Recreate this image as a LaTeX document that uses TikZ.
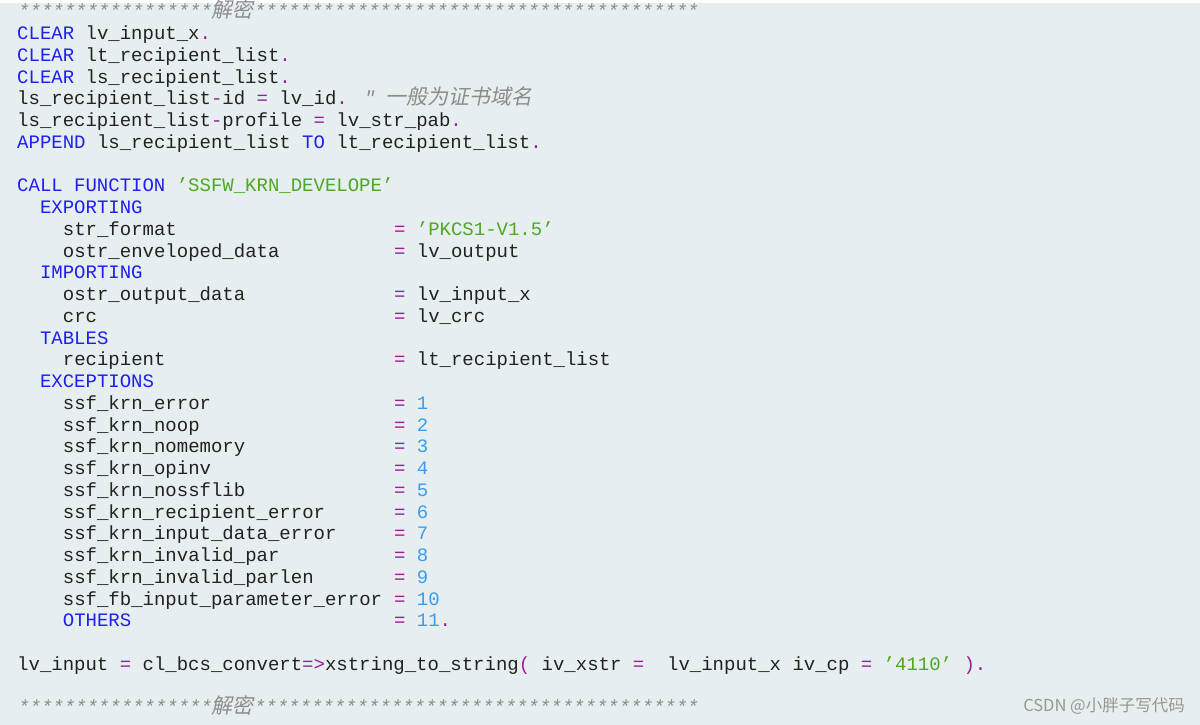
\documentclass[tikz,border=0pt]{standalone}
\usepackage{fontspec}
\newfontfamily\codefont{Liberation Mono}
\newfontfamily\cjkit[FakeSlant=0.2]{Noto Sans CJK SC}
\newfontfamily\codeit[FakeSlant=0.2]{Liberation Mono}
\newfontfamily\cjk{Noto Sans CJK SC}
\definecolor{bg}{HTML}{E6EEF0}
\definecolor{kwc}{HTML}{1F1FF0}
\definecolor{opc}{HTML}{9A1E9A}
\definecolor{stc}{HTML}{4EA822}
\definecolor{nmc}{HTML}{3A9CF0}
\definecolor{cmc}{HTML}{8C8C8C}
\definecolor{txc}{HTML}{222222}
\newcommand\Kw[1]{\textcolor{kwc}{#1}}
\newcommand\Op[1]{\textcolor{opc}{#1}}
\newcommand\Str[1]{\textcolor{stc}{#1}}
\newcommand\Num[1]{\textcolor{nmc}{#1}}
\newcommand\Cm[1]{\textcolor{cmc}{#1}}
\newcommand\Stars{\textcolor{cmc}{\codeit *****************{\cjkit\fontsize{21}{21}\selectfont 解密}***************************************}}
\tikzset{
 ln/.style={anchor=base west,inner sep=0pt,text=txc,font=\codefont\fontsize{19}{21.75}\selectfont},
}
\begin{document}
\begin{tikzpicture}[x=1pt,y=-1pt]
\fill[bg] (0,0) rectangle (1200,722);
\def\cw{11.42}
\node[ln] (l0) at (17,15) {\Stars};
\node[ln] (l1) at (17,37) {\Kw{CLEAR} lv\_input\_x\Op{.}};
\node[ln] (l2) at (17,58.5) {\Kw{CLEAR} lt\_recipient\_list\Op{.}};
\node[ln] (l3) at (17,80.25) {\Kw{CLEAR} ls\_recipient\_list\Op{.}};
\node[ln] (l4) at (17,102) {ls\_recipient\_list\Op{-}id \Op{=} lv\_id\Op{.} \Cm{{\codeit "\ }{\cjkit\fontsize{21}{21}\selectfont 一般为证书域名}}};
\node[ln] (l5) at (17,123.75) {ls\_recipient\_list\Op{-}profile \Op{=} lv\_str\_pab\Op{.}};
\node[ln] (l6) at (17,145.5) {\Kw{APPEND} ls\_recipient\_list \Kw{TO} lt\_recipient\_list\Op{.}};
\node[ln] (l8) at (17,189) {\Kw{CALL FUNCTION} \Str{’SSFW\_KRN\_DEVELOPE’}};
\foreach \i/\c/\t/\v in {
 9/2/\Kw{EXPORTING}/,
 10/4/str\_format/\Str{’PKCS1-V1.5’},
 11/4/ostr\_enveloped\_data/lv\_output,
 12/2/\Kw{IMPORTING}/,
 13/4/ostr\_output\_data/lv\_input\_x,
 14/4/crc/lv\_crc,
 15/2/\Kw{TABLES}/,
 16/4/recipient/lt\_recipient\_list,
 17/2/\Kw{EXCEPTIONS}/,
 18/4/ssf\_krn\_error/\Num{1},
 19/4/ssf\_krn\_noop/\Num{2},
 20/4/ssf\_krn\_nomemory/\Num{3},
 21/4/ssf\_krn\_opinv/\Num{4},
 22/4/ssf\_krn\_nossflib/\Num{5},
 23/4/ssf\_krn\_recipient\_error/\Num{6},
 24/4/ssf\_krn\_input\_data\_error/\Num{7},
 25/4/ssf\_krn\_invalid\_par/\Num{8},
 26/4/ssf\_krn\_invalid\_parlen/\Num{9},
 27/4/ssf\_fb\_input\_parameter\_error/\Num{10},
 28/4/\Kw{OTHERS}/\Num{11}\Op{.}}{
 \node[ln] (n\i) at (17+\c*\cw, 15+21.75*\i) {\t};
 \if\relax\detokenize\expandafter{\v}\relax\else
 \node[ln] (v\i) at (17+33*\cw, 15+21.75*\i) {\Op{=} \v};\fi
}
\node[ln] (l30) at (17,667.5) {lv\_input \Op{=} cl\_bcs\_convert\Op{=>}xstring\_to\_string\Op{(} iv\_xstr \Op{=}\ \ lv\_input\_x iv\_cp \Op{=} \Str{’4110’} \Op{).}};
\node[ln] (l32) at (17,711) {\Stars};
\node[anchor=base east,inner sep=0pt,text=cmc!90,font=\cjk\fontsize{16.5}{18}\selectfont] (wm) at (1185,709) {CSDN @小胖子写代码};
\end{tikzpicture}
\end{document}
